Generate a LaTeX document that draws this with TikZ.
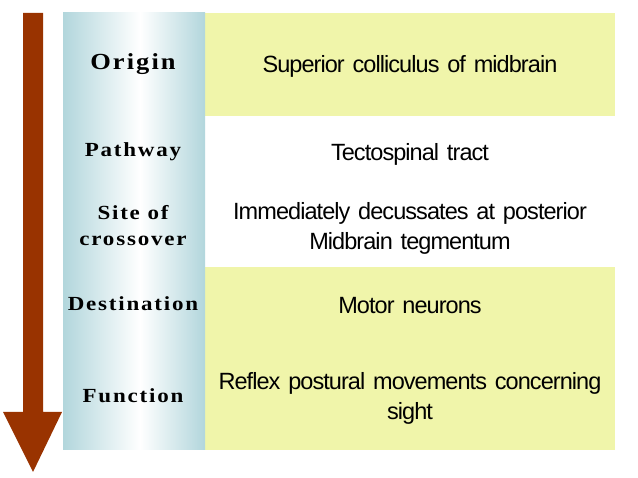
\documentclass[tikz,border=0pt]{standalone}
\usepackage{fontspec}
\setmainfont{Liberation Sans}[LetterSpace=-4,WordSpace=0.5]
\newfontfamily\labfont{Liberation Serif}[LetterSpace=9,FakeStretch=1.15]
\definecolor{arr}{RGB}{153,51,0}
\definecolor{lb}{RGB}{178,214,220}
\definecolor{yl}{RGB}{240,245,170}
\tikzset{lab/.style={font=\labfont\bfseries\fontsize{20}{26}\selectfont,align=center,inner sep=0pt},
 txt/.style={font=\fontsize{23.5}{30}\selectfont,align=center,text width=430pt}}
\begin{document}
\begin{tikzpicture}[x=1pt,y=-1pt]
\useasboundingbox (0,0) rectangle (638,478);
\fill[white] (0,0) rectangle (638,478);
\fill[yl] (205,13) rectangle (615,116);
\fill[yl] (205,267) rectangle (615,450);
\shade[left color=lb,right color=white] (63,13) rectangle (140,450);
\shade[left color=white,right color=lb] (140,13) rectangle (205,450);
\fill[arr] (23,13) -- (43,13) -- (43,412) -- (62,412) -- (33,472) -- (3,412) -- (23,412) -- cycle;
\node[lab,font=\labfont\bfseries\fontsize{23}{26}\selectfont] (l1) at (133,64) {Origin};
\node[lab] (l2) at (133,152) {Pathway};
\node[lab] (l3) at (133,226) {Site of\\crossover};
\node[lab] (l4) at (133,304) {Destination};
\node[lab] (l5) at (133,396) {Function};
\node[txt] (t1) at (410,66) {Superior colliculus of midbrain};
\node[txt] (t2) at (410,154) {Tectospinal tract};
\node[txt] (t3) at (410,228) {Immediately decussates at posterior\\Midbrain tegmentum};
\node[txt] (t4) at (410,306) {Motor neurons};
\node[txt] (t5) at (410,398) {Reflex postural movements concerning\\sight};
\end{tikzpicture}
\end{document}
